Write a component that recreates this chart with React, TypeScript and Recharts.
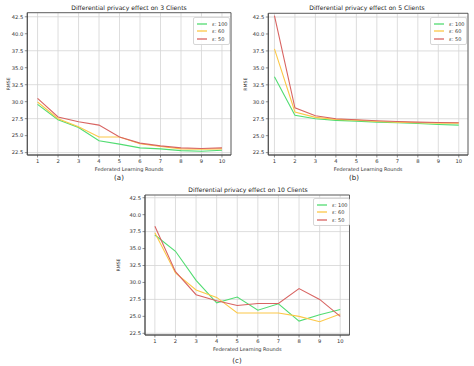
import React from 'react';
import { LineChart, Line, XAxis, YAxis, CartesianGrid, Legend, ReferenceArea } from 'recharts';

const rounds = [1, 2, 3, 4, 5, 6, 7, 8, 9, 10];
const yTicks = [22.5, 25.0, 27.5, 30.0, 32.5, 35.0, 37.5, 40.0, 42.5];
const seriesKeys = ['e100', 'e60', 'e50'];
const seriesNames = ['ε: 100', 'ε: 60', 'ε: 50'];
const seriesColors = ['#52dc72', '#fcc848', '#d86462'];

const clients3Eps100 = [29.6, 27.35, 26.2, 24.25, 23.75, 23.2, 23.05, 22.8, 22.7, 22.85];
const clients3Eps60 = [29.95, 27.5, 26.3, 24.8, 24.8, 23.8, 23.4, 23.05, 23.0, 23.05];
const clients3Eps50 = [30.5, 27.75, 27.05, 26.55, 24.8, 23.9, 23.5, 23.2, 23.1, 23.2];

const clients5Eps100 = [33.7, 28.0, 27.5, 27.25, 27.15, 27.0, 26.9, 26.8, 26.65, 26.55];
const clients5Eps60 = [37.8, 28.5, 27.7, 27.4, 27.3, 27.1, 27.0, 26.9, 26.85, 26.85];
const clients5Eps50 = [42.7, 29.1, 27.95, 27.5, 27.35, 27.2, 27.1, 27.0, 26.95, 26.9];

const clients10Eps100 = [37.0, 34.6, 30.3, 27.0, 27.85, 25.9, 26.85, 24.3, 25.25, 26.0];
const clients10Eps60 = [37.35, 31.4, 28.9, 27.8, 25.5, 25.5, 25.5, 25.0, 24.2, 25.35];
const clients10Eps50 = [38.3, 31.6, 28.2, 27.3, 26.6, 26.9, 26.9, 29.1, 27.5, 25.0];

const FONT = '"DejaVu Sans", sans-serif';

function buildData(s100: number[], s60: number[], s50: number[]) {
  return rounds.map((r, i) => ({ round: r, e100: s100[i], e60: s60[i], e50: s50[i] }));
}

const LegendBox = () => {
  return (
    <div
      style={{
        background: 'rgba(255,255,255,0.9)',
        border: '1px solid #d6d6d6',
        borderRadius: 2,
        padding: '2px 3px 1px 3px',
        fontFamily: FONT,
        fontSize: 5,
        color: '#333',
        boxSizing: 'border-box',
        width: 37,
        whiteSpace: 'nowrap',
      }}
    >
      {seriesNames.map((name, i) => (
        <div key={name} style={{ display: 'flex', alignItems: 'center', height: 7.6 }}>
          <svg width={10} height={4} style={{ marginRight: 5, flex: 'none', display: 'block' }}>
            <line x1={0} y1={2} x2={10} y2={2} stroke={seriesColors[i]} strokeWidth={1.3} />
          </svg>
          <span>{name}</span>
        </div>
      ))}
    </div>
  );
};

type PanelProps = {
  data: any[];
  left: number;
  top: number;
  width: number;
  height: number;
  yAxisWidth: number;
  marginTop: number;
  marginRight: number;
  xDomain: [number, number];
  yDomain: [number, number];
  legendLeft: number;
  legendTop: number;
};

function Panel(p: PanelProps) {
  const tickStyle = { fontFamily: FONT, fontSize: 5.2, fill: '#333' };
  return (
    <div style={{ position: 'absolute', left: p.left, top: p.top }}>
      <LineChart
        width={p.width}
        height={p.height}
        data={p.data}
        margin={{ top: p.marginTop, right: p.marginRight, bottom: 0, left: 0 }}
      >
        <CartesianGrid stroke="#d4d4d4" strokeWidth={0.8} />
        <XAxis
          dataKey="round"
          type="number"
          domain={p.xDomain}
          ticks={rounds}
          allowDataOverflow
          height={25}
          tickSize={2.5}
          tickMargin={1.5}
          tick={tickStyle}
          stroke="#333"
          axisLine={{ stroke: '#444', strokeWidth: 0.8 }}
          tickLine={{ stroke: '#444', strokeWidth: 0.6 }}
          label={{
            value: 'Federated Learning Rounds',
            position: 'insideBottom',
            offset: 9,
            style: { fontFamily: FONT, fontSize: 5, fill: '#333' },
          }}
        />
        <YAxis
          type="number"
          domain={p.yDomain}
          ticks={yTicks}
          allowDataOverflow
          width={p.yAxisWidth}
          tickSize={2.5}
          tickMargin={1.5}
          tick={tickStyle}
          tickFormatter={(v: number) => v.toFixed(1)}
          axisLine={{ stroke: '#444', strokeWidth: 0.8 }}
          tickLine={{ stroke: '#444', strokeWidth: 0.6 }}
          label={{
            value: 'RMSE',
            angle: -90,
            position: 'insideLeft',
            offset: 8,
            style: { fontFamily: FONT, fontSize: 4.6, fill: '#333', textAnchor: 'middle' },
          }}
        />
        <ReferenceArea
          x1={p.xDomain[0]}
          x2={p.xDomain[1]}
          y1={p.yDomain[0]}
          y2={p.yDomain[1]}
          fill="none"
          stroke="#444"
          strokeWidth={0.8}
          ifOverflow="visible"
        />
        {seriesKeys.map((k, i) => (
          <Line
            key={k}
            dataKey={k}
            name={seriesNames[i]}
            stroke={seriesColors[i]}
            strokeWidth={1.1}
            dot={false}
            isAnimationActive={false}
          />
        ))}
        <Legend
          layout="vertical"
          align="center"
          verticalAlign="middle"
          content={<LegendBox />}
          wrapperStyle={{ left: p.legendLeft, top: p.legendTop, width: 37, right: 'auto', bottom: 'auto' }}
        />
      </LineChart>
    </div>
  );
}

const textAbs = (x: number, y: number, size: number): React.CSSProperties => ({
  position: 'absolute',
  left: x - 150,
  width: 300,
  top: y - size * 0.6,
  textAlign: 'center',
  fontFamily: FONT,
  fontSize: size,
  lineHeight: `${size * 1.2}px`,
  color: '#222',
  whiteSpace: 'nowrap',
});

export default function App() {
  return (
    <div style={{ position: 'absolute', left: 0, top: 0, width: 474, height: 366, background: '#fff', overflow: 'hidden' }}>
      <Panel
        data={buildData(clients3Eps100, clients3Eps60, clients3Eps50)}
        left={0}
        top={0}
        width={237}
        height={180}
        yAxisWidth={27.3}
        marginTop={12.7}
        marginRight={6}
        xDomain={[0.5, 10.44]}
        yDomain={[22.15, 43.1]}
        legendLeft={193}
        legendTop={17}
      />
      <Panel
        data={buildData(clients5Eps100, clients5Eps60, clients5Eps50)}
        left={237}
        top={0}
        width={237}
        height={180}
        yAxisWidth={31.3}
        marginTop={13.3}
        marginRight={6}
        xDomain={[0.7, 10.45]}
        yDomain={[22.15, 43.05]}
        legendLeft={193}
        legendTop={17}
      />
      <Panel
        data={buildData(clients10Eps100, clients10Eps60, clients10Eps50)}
        left={110}
        top={180}
        width={250}
        height={180}
        yAxisWidth={35}
        marginTop={15}
        marginRight={10.5}
        xDomain={[0.52, 10.45]}
        yDomain={[22.25, 42.9]}
        legendLeft={203}
        legendTop={18}
      />
      <div style={textAbs(129, 7.3, 6.1)}>Differential privacy effect on 3 Clients</div>
      <div style={textAbs(367, 7.3, 6.1)}>Differential privacy effect on 5 Clients</div>
      <div style={textAbs(248, 190, 6.1)}>Differential privacy effect on 10 Clients</div>
      <div style={textAbs(119, 178, 7)}>(a)</div>
      <div style={textAbs(354, 178, 7)}>(b)</div>
      <div style={textAbs(237, 361.5, 7)}>(c)</div>
    </div>
  );
}
